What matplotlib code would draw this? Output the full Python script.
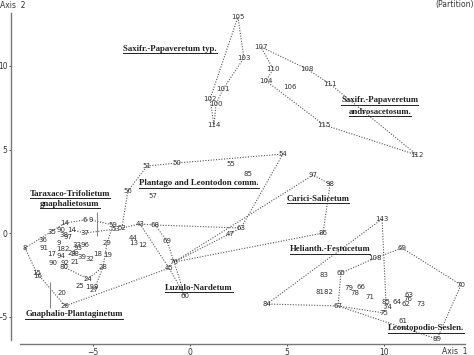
import matplotlib
matplotlib.use("Agg")
import matplotlib.pyplot as plt
from matplotlib.lines import Line2D

# releve numbers on the ordination plane (axis 1, axis 2)
point_ids = ["105", "103", "101", "102", "100", "114",
             "107", "110", "104", "106", "108", "111", "115", "112",
             "51", "50", "55", "85", "54", "56", "57", "63", "47",
             "97", "98", "86",
             "143", "108b", "69b", "70", "65", "83", "8182", "79", "66", "78", "71",
             "84", "67", "85b", "64", "62", "63b", "76b", "73", "74", "75", "61", "89",
             "14", "6", "9", "35", "90", "14b", "37", "36", "91", "8", "9b", "182",
             "17", "94", "90b", "92", "80", "21", "93", "96", "33", "97b", "38",
             "24b", "28b", "39", "32",
             "18", "19", "29", "28", "15", "16", "24", "25", "199", "27", "20", "26",
             "59", "53", "52", "43", "68", "44", "13", "12", "69", "76", "45", "60"]
point_x = [2.47, 2.78, 1.70, 1.03, 1.34, 1.24,
           3.66, 4.28, 3.92, 5.15, 6.03, 7.22, 6.91, 11.70,
           -2.22, -0.67, 2.11, 2.99, 4.79, -3.20, -1.91, 2.63, 2.06,
           6.34, 7.22, 6.86,
           9.90, 9.54, 10.93, 13.97, 7.78, 6.91, 6.91, 8.20, 8.81, 8.51, 9.28,
           3.97, 7.63, 10.10, 10.67, 11.13, 11.29, 11.24, 11.91, 10.21, 10.00, 10.98, 12.73,
           -6.44, -5.41, -5.10, -7.11, -6.65, -6.08, -5.41, -7.58, -7.53, -8.51, -6.75, -6.55,
           -7.11, -6.65, -7.06, -6.44, -6.49, -5.93, -5.77, -5.41, -5.82, -6.29, -6.49,
           -6.08, -5.93, -5.57, -5.15,
           -4.74, -4.23, -4.28, -4.48, -7.89, -7.84, -5.26, -5.67, -5.05, -4.95, -6.60, -6.44,
           -3.97, -3.81, -3.51, -2.58, -1.80, -2.94, -2.89, -2.42, -1.19, -0.82, -1.08, -0.26]
point_y = [12.93, 10.48, 8.62, 8.02, 7.72, 6.47,
           11.14, 9.82, 9.10, 8.74, 9.82, 8.92, 6.47, 4.67,
           4.01, 4.19, 4.13, 3.53, 4.73, 2.51, 2.22, 0.30, -0.06,
           3.47, 2.93, 0.00,
           0.84, -1.50, -0.90, -3.11, -2.40, -2.51, -3.53, -3.29, -3.23, -3.59, -3.83,
           -4.25, -4.37, -4.13, -4.13, -4.25, -3.71, -3.95, -4.25, -4.43, -4.79, -5.27, -6.35,
           0.60, 0.78, 0.78, 0.06, 0.18, 0.18, 0.00, -0.42, -0.90, -0.90, -0.60, -0.96,
           -1.26, -1.38, -1.80, -1.80, -2.04, -1.74, -0.90, -0.72, -0.72, -0.24, -0.12,
           -1.20, -1.26, -1.44, -1.56,
           -1.26, -1.32, -0.60, -2.04, -2.40, -2.57, -2.75, -3.17, -3.23, -3.41, -3.59, -4.37,
           0.48, 0.24, 0.30, 0.54, 0.48, -0.30, -0.60, -0.72, -0.48, -1.74, -2.10, -3.77]

# dotted outlines of the partition groups
paths = [
    ["105", "103", "101", "100", "114", "102", "105"],
    ["107", "108", "111", "112", "115", "104", "110", "107"],
    ["51", "50", "54", "63", "68", "43", "52", "56", "51"],
    ["43", "45", "60", "76", "63"],
    ["68", "69", "76"],
    ["76", "97", "98", "86", "76"],
    ["8", "14", "6", "9", "59", "29", "28", "27"],
    ["14b", "37", "53"],
    ["28", "24", "80"],
    ["8", "15", "26", "45"],
    ["84", "143", "85b", "75", "67", "84"],
    ["65", "108b", "69b", "70", "89", "67", "65"],
]

group_names = ["Saxifr.-Papaveretum typ.", "Saxifr.-Papaveretum", "androsacetosum.",
               "Plantago and Leontodon comm.", "Taraxaco-Trifolietum", "gnaphalietosum",
               "Carici-Salicetum", "Helianth.-Festucetum", "Luzulo-Nardetum",
               "Gnaphalio-Plantaginetum", "Leontopodio-Seslen."]
group_x = [-1.03, 9.79, 9.79, 0.46, -6.19, -6.19, 6.60, 7.22, 0.46, -5.98, 12.16]
group_y = [11.02, 7.96, 7.25, 2.99, 2.34, 1.74, 2.04, -0.96, -3.29, -4.85, -5.69]

# short separator strokes
sep_x = [-4.79, -7.22]
sep_y0 = [1.26, -2.93]
sep_y1 = [-0.18, -4.49]

fig = plt.figure(figsize=(4.74, 3.55), dpi=100)
ax = fig.add_axes([0, 0, 1, 1])
ax.set_xlim(-9.794, 14.639)
ax.set_ylim(-7.305, 13.952)

pos = {k: (x, y) for k, x, y in zip(point_ids, point_x, point_y)}
for p in paths:
    xs = [pos[k][0] for k in p]
    ys = [pos[k][1] for k in p]
    ax.plot(xs, ys, color="#555555", lw=0.8, ls=(0, (1, 1.4)), zorder=1)

for k, x, y in zip(point_ids, point_x, point_y):
    ax.text(x, y, k.rstrip("b"), fontsize=5, color="#333333",
            ha="center", va="center", zorder=3)

ax.vlines(sep_x, sep_y0, sep_y1, color="#888888", lw=0.8)

labels = []
for name, x, y in zip(group_names, group_x, group_y):
    t = ax.text(x, y, name, fontsize=6.3, family="Liberation Serif",
                weight="bold", color="#222222", ha="center", va="center", zorder=4)
    labels.append(t)

# axes drawn as detached lines
for s in ["top", "right"]:
    ax.spines[s].set_visible(False)
ax.spines["left"].set_position(("data", -9.23))
ax.spines["left"].set_bounds(-6.41, 13.17)
ax.spines["bottom"].set_position(("data", -6.65))
ax.spines["bottom"].set_bounds(-8.76, 14.18)
for s in ["left", "bottom"]:
    ax.spines[s].set_color("#777777")
    ax.spines[s].set_linewidth(1)
ax.set_xticks([-5, 0, 5, 10])
ax.set_yticks([-5, 0, 5, 10])
ax.tick_params(labelsize=5.5, length=1.5, width=0.6, pad=1, colors="#333333")
ax.patch.set_visible(False)

fig.text(0.0, 1 - 5 / 355, "Axis  2", fontsize=5.5, color="#333333", va="center")
fig.text(1.0, 1 - 5 / 355, "(Partition)", fontsize=5.5, color="#333333",
         va="center", ha="right")
fig.text(442 / 474, 1 - 352 / 355, "Axis  1", fontsize=5.5, color="#333333", va="center")

# underline the group names
fig.canvas.draw()
r = fig.canvas.get_renderer()
for t in labels:
    bb = t.get_window_extent(r)
    y0 = (bb.y0 - 0.5) / fig.bbox.height
    fig.add_artist(Line2D([bb.x0 / fig.bbox.width, bb.x1 / fig.bbox.width], [y0, y0],
                          color="#222222", lw=0.7))

fig.savefig("out.png", dpi=100)
